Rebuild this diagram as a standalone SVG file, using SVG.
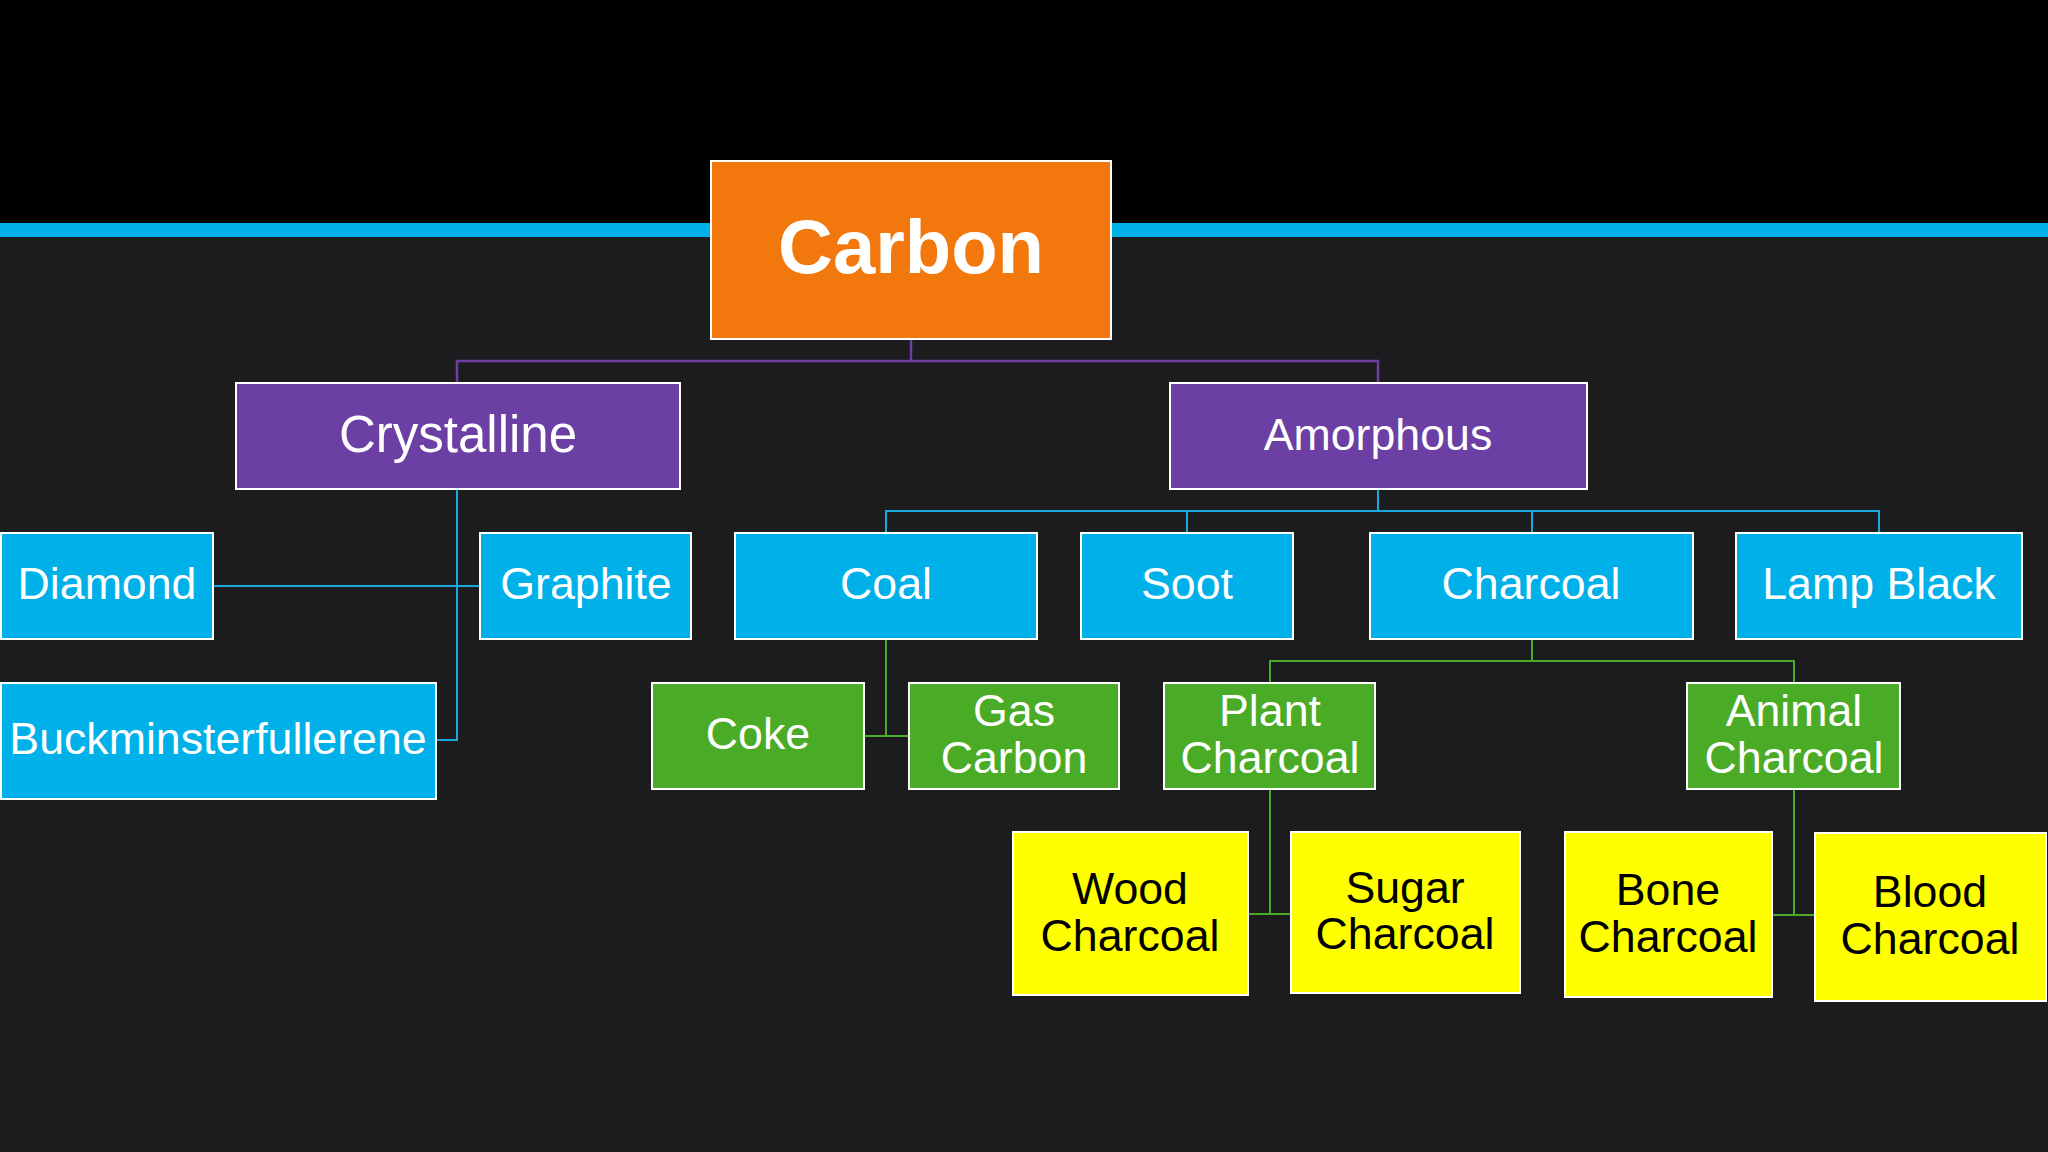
<svg xmlns="http://www.w3.org/2000/svg" width="2048" height="1152" viewBox="0 0 2048 1152">
<style>
.box{stroke:#ffffff;stroke-width:2}
.cy{fill:#00b0e8}
.pu{fill:#6b3fa3}
.gr{fill:#4aab26}
.ye{fill:#ffff00}
.or{fill:#f2780d}
.t{font-family:"Liberation Sans",Arial,sans-serif;font-size:44.7px;fill:#ffffff;text-anchor:middle}
.tb{fill:#000000}
.cp{fill:none;stroke:#6b3fa3;stroke-width:2.5}
.cc{fill:none;stroke:#18aadc;stroke-width:2}
.cg{fill:none;stroke:#4aab26;stroke-width:2}
</style>
<rect x="0" y="0" width="2048" height="1152" fill="#1c1b1d"/>
<rect x="0" y="0" width="2048" height="223" fill="#000000"/>
<rect x="0" y="223" width="2048" height="14" fill="#00b0e8"/>
<g id="connectors">
<path class="cp" d="M911 339V361M457 383V361H1378V383"/>
<path class="cc" d="M457 489V740H436M213 586H480"/>
<path class="cc" d="M1378 489V511M886 533V511H1879V533M1187 511V533M1532 511V533"/>
<path class="cg" d="M886 639V736M864 736H909"/>
<path class="cg" d="M1532 639V661M1270 683V661H1794V683"/>
<path class="cg" d="M1270 789V913M1248 914H1291"/>
<path class="cg" d="M1794 789V915M1772 915H1815"/>
</g>
<g id="carbon"><rect class="box or" x="711" y="161" width="400" height="178"/><text class="t" x="911" y="273" style="font-size:76px;font-weight:bold">Carbon</text></g>
<g id="crystalline"><rect class="box pu" x="236" y="383" width="444" height="106"/><text class="t" x="458" y="452" style="font-size:51px">Crystalline</text></g>
<g id="amorphous"><rect class="box pu" x="1170" y="383" width="417" height="106"/><text class="t" x="1378" y="450">Amorphous</text></g>
<g id="diamond"><rect class="box cy" x="1" y="533" width="212" height="106"/><text class="t" x="107" y="599">Diamond</text></g>
<g id="graphite"><rect class="box cy" x="480" y="533" width="211" height="106"/><text class="t" x="586" y="599">Graphite</text></g>
<g id="buckminsterfullerene"><rect class="box cy" x="1" y="683" width="435" height="116"/><text class="t" x="218" y="754">Buckminsterfullerene</text></g>
<g id="coal"><rect class="box cy" x="735" y="533" width="302" height="106"/><text class="t" x="886" y="599">Coal</text></g>
<g id="soot"><rect class="box cy" x="1081" y="533" width="212" height="106"/><text class="t" x="1187" y="599">Soot</text></g>
<g id="charcoal"><rect class="box cy" x="1370" y="533" width="323" height="106"/><text class="t" x="1531" y="599">Charcoal</text></g>
<g id="lampblack"><rect class="box cy" x="1736" y="533" width="286" height="106"/><text class="t" x="1879" y="599">Lamp Black</text></g>
<g id="coke"><rect class="box gr" x="652" y="683" width="212" height="106"/><text class="t" x="758" y="749">Coke</text></g>
<g id="gascarbon"><rect class="box gr" x="909" y="683" width="210" height="106"/><text class="t" x="1014" y="726">Gas</text><text class="t" x="1014" y="773">Carbon</text></g>
<g id="plantcharcoal"><rect class="box gr" x="1164" y="683" width="211" height="106"/><text class="t" x="1270" y="726">Plant</text><text class="t" x="1270" y="773">Charcoal</text></g>
<g id="animalcharcoal"><rect class="box gr" x="1687" y="683" width="213" height="106"/><text class="t" x="1794" y="726">Animal</text><text class="t" x="1794" y="773">Charcoal</text></g>
<g id="woodcharcoal"><rect class="box ye" x="1013" y="832" width="235" height="163"/><text class="t tb" x="1130" y="904">Wood</text><text class="t tb" x="1130" y="951">Charcoal</text></g>
<g id="sugarcharcoal"><rect class="box ye" x="1291" y="832" width="229" height="161"/><text class="t tb" x="1405" y="903">Sugar</text><text class="t tb" x="1405" y="949">Charcoal</text></g>
<g id="bonecharcoal"><rect class="box ye" x="1565" y="832" width="207" height="165"/><text class="t tb" x="1668" y="905">Bone</text><text class="t tb" x="1668" y="952">Charcoal</text></g>
<g id="bloodcharcoal"><rect class="box ye" x="1815" y="833" width="231" height="168"/><text class="t tb" x="1930" y="907">Blood</text><text class="t tb" x="1930" y="954">Charcoal</text></g>
</svg>
